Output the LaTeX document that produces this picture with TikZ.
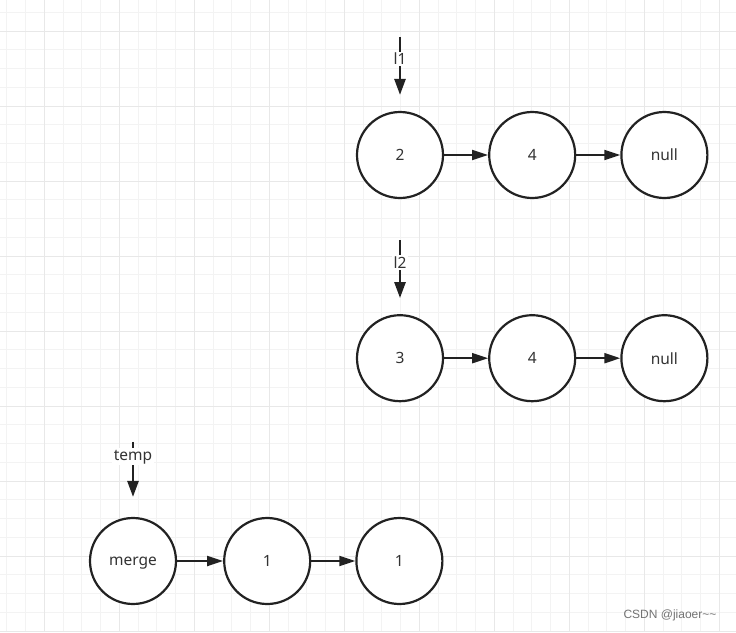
\documentclass[tikz,border=0pt]{standalone}
\usepackage{fontspec}
\setmainfont{Noto Sans}
\newfontfamily\markfont{Liberation Sans}
\usetikzlibrary{
    arrows.meta,
    positioning
}
\definecolor{inkdark}{HTML}{222222}
\definecolor{textgray}{HTML}{333333}
\definecolor{gridminor}{HTML}{F3F3F3}
\definecolor{gridmajor}{HTML}{E8E8E8}

\begin{document}
\begin{tikzpicture}[
    x=1pt, y=-1pt,
    listnode/.style = {circle, draw=inkdark, fill=white,
                       line width=2.2pt,
                       minimum size=86pt, inner sep=0pt, text depth=0pt,
                       text=textgray, font=\fontsize{15.5}{18}\selectfont},
    nextarrow/.style = {draw=inkdark, line width=2pt,
                        -{Triangle[length=16pt,width=10pt]}},
    ptrarrow/.style = {draw=inkdark, line width=2.6pt, shorten >=16pt,
                       -{Triangle[length=16pt,width=11pt]}},
    ptrlabel/.style = {fill=white, inner sep=1.5pt, text=textgray,
                       font=\fontsize{15.5}{18}\selectfont},
    minorline/.style = {draw=gridminor, line width=1pt},
    majorline/.style = {draw=gridmajor, line width=1pt}
]

    \useasboundingbox[fill=white] (0,0) rectangle (736,632);

    % grid paper
    \foreach \i in {0,...,38}
        \draw[minorline] (6.8+18.75*\i,0) -- (6.8+18.75*\i,632);
    \foreach \i in {0,...,34}
        \draw[minorline] (0,12.25+18.75*\i) -- (736,12.25+18.75*\i);
    \foreach \i in {0,...,9}
        \draw[majorline] (44.3+75*\i,0) -- (44.3+75*\i,632);
    \foreach \i in {0,...,8}
        \draw[majorline] (0,31+75*\i) -- (736,31+75*\i);

    % list l1
    \node[listnode] (A1) at (400,155) {2};
    \node[listnode] (A2) [right=44pt of A1] {4};
    \node[listnode] (A3) [right=44pt of A2] {null};

    % list l2
    \node[listnode] (B1) [below=115pt of A1] {3};
    \node[listnode] (B2) [right=44pt of B1] {4};
    \node[listnode] (B3) [right=44pt of B2] {null};

    % merged list
    \node[listnode] (C1) at (133,561) {merge};
    \node[listnode] (C2) [right=46pt of C1] {1};
    \node[listnode] (C3) [right=44pt of C2] {1};

    \draw[nextarrow] (A1.east) -- (A2.west);
    \draw[nextarrow] (A2.east) -- (A3.west);
    \draw[nextarrow] (B1.east) -- (B2.west);
    \draw[nextarrow] (B2.east) -- (B3.west);
    \draw[nextarrow] (C1.east) -- (C2.west);
    \draw[nextarrow] (C2.east) -- (C3.west);

    % pointers
    \coordinate[above=74pt of A1] (P1);
    \coordinate[above=74pt of B1] (P2);
    \coordinate[above=75pt of C1] (P3);

    \draw[ptrarrow] (P1) -- node[ptrlabel, pos=0.3] {l1} (A1);
    \draw[ptrarrow] (P2) -- node[ptrlabel, pos=0.3] {l2} (B1);
    \draw[ptrarrow, shorten >=20pt] (P3) -- node[ptrlabel, pos=0.2] {temp} (C1);

    \node[text=black!55, font=\markfont\fontsize{12}{14}\selectfont]
        (mark) at (670,615) {CSDN @jiaoer\textasciitilde\textasciitilde};

\end{tikzpicture}
\end{document}
